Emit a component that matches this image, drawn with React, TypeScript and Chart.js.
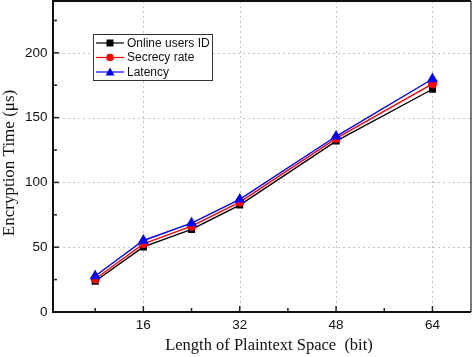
import React, { useEffect, useRef } from "react";
import { Chart, registerables } from "chart.js";

Chart.register(...registerables);

const xValues = [8, 16, 24, 32, 48, 64];
const onlineUsersID = [23.7, 50.2, 63.7, 82.5, 131.9, 171.9];
const secrecyRate = [25.5, 52.6, 66.2, 84.8, 134.0, 176.0];
const latency = [27.8, 55.2, 68.6, 86.9, 135.6, 179.8];
const xMajorTicks = [16, 32, 48, 64];
const xMinorTicks = [8, 24, 40, 56];
const yMajorTicks = [0, 50, 100, 150, 200];
const yMinorTicks = [25, 75, 125, 175, 225];
const seriesNames = ["Online users ID", "Secrecy rate", "Latency"];
const xTitle = "Length of Plaintext Space  (bit)";
const yTitle = "Encryption Time (\u03bcs)";

const SANS = "'Liberation Sans', Arial, sans-serif";
const SERIF = "'Liberation Serif', 'Times New Roman', serif";

const decorPlugin = {
  id: "decor",
  beforeDatasetsDraw(chart: any) {
    const { ctx, chartArea: a, scales } = chart;
    const xs = scales.x, ys = scales.y;
    ctx.save();
    ctx.strokeStyle = "#c4c4c4";
    ctx.lineWidth = 1;
    ctx.setLineDash([2, 3]);
    for (const t of xMajorTicks) {
      const px = Math.round(xs.getPixelForValue(t)) + 0.5;
      ctx.beginPath(); ctx.moveTo(px, a.top); ctx.lineTo(px, a.bottom); ctx.stroke();
    }
    for (const t of yMajorTicks) {
      if (t === 0) continue;
      const py = Math.round(ys.getPixelForValue(t)) + 0.5;
      ctx.beginPath(); ctx.moveTo(a.left, py); ctx.lineTo(a.right, py); ctx.stroke();
    }
    ctx.setLineDash([]);
    ctx.restore();
  },
  afterDatasetsDraw(chart: any) {
    const { ctx, chartArea: a, scales } = chart;
    const xs = scales.x, ys = scales.y;
    ctx.save();
    ctx.strokeStyle = "#222";
    ctx.lineWidth = 1.5;
    const xt = (v: number, len: number) => {
      const px = xs.getPixelForValue(v);
      ctx.beginPath(); ctx.moveTo(px, a.bottom); ctx.lineTo(px, a.bottom - len); ctx.stroke();
    };
    const yt = (v: number, len: number) => {
      const py = ys.getPixelForValue(v);
      ctx.beginPath(); ctx.moveTo(a.left, py); ctx.lineTo(a.left + len, py); ctx.stroke();
    };
    xMajorTicks.forEach((v) => xt(v, 6));
    xMinorTicks.forEach((v) => xt(v, 4));
    yMajorTicks.forEach((v) => yt(v, 6));
    yMinorTicks.forEach((v) => yt(v, 4));
    ctx.lineWidth = 2;
    ctx.strokeStyle = "#7a7a7a";
    ctx.beginPath(); ctx.moveTo(a.right, a.top); ctx.lineTo(a.right, a.bottom); ctx.stroke();
    ctx.strokeStyle = "#111";
    ctx.beginPath();
    ctx.moveTo(a.right, a.top); ctx.lineTo(a.left, a.top); ctx.lineTo(a.left, a.bottom); ctx.lineTo(a.right, a.bottom);
    ctx.stroke();

    ctx.fillStyle = "#111";
    ctx.font = `16.5px ${SERIF}`;
    ctx.textAlign = "center";
    ctx.textBaseline = "middle";
    ctx.fillText(xTitle, 269, 346);
    ctx.save();
    ctx.font = `17px ${SERIF}`;
    ctx.translate(10, 163);
    ctx.rotate(-Math.PI / 2);
    ctx.fillText(yTitle, 0, 0);
    ctx.restore();

    const lx = 93.5, ly = 34.5, lw = 119, lh = 46;
    ctx.fillStyle = "#fff";
    ctx.fillRect(lx, ly, lw, lh);
    ctx.strokeStyle = "#333";
    ctx.lineWidth = 1;
    ctx.strokeRect(lx, ly, lw, lh);
    const colors = ["#000000", "#ff0000", "#0000ff"];
    const rows = [43, 57.5, 72];
    ctx.font = `12px ${SANS}`;
    ctx.textAlign = "left";
    rows.forEach((ry, i) => {
      ctx.strokeStyle = colors[i];
      ctx.lineWidth = 1.2;
      ctx.beginPath(); ctx.moveTo(96, ry); ctx.lineTo(124, ry); ctx.stroke();
      ctx.fillStyle = colors[i];
      const cx = 110;
      if (i === 0) ctx.fillRect(cx - 3.5, ry - 3.5, 7, 7);
      else if (i === 1) { ctx.beginPath(); ctx.arc(cx, ry, 3.8, 0, Math.PI * 2); ctx.fill(); }
      else { ctx.beginPath(); ctx.moveTo(cx, ry - 4.5); ctx.lineTo(cx + 4.5, ry + 3.5); ctx.lineTo(cx - 4.5, ry + 3.5); ctx.closePath(); ctx.fill(); }
      ctx.fillStyle = "#111";
      ctx.fillText(seriesNames[i], 127, ry + 0.5);
    });
    ctx.restore();
  },
};

export default function App() {
  const ref = useRef<HTMLCanvasElement>(null);
  useEffect(() => {
    if (!ref.current) return;
    const mk = (d: number[]) => d.map((y, i) => ({ x: xValues[i], y }));
    const chart = new Chart(ref.current, {
      type: "line",
      data: {
        datasets: [
          { label: seriesNames[0], data: mk(onlineUsersID), borderColor: "#000", backgroundColor: "#000", borderWidth: 1.4, pointStyle: "rect", pointRadius: 4, order: 3 },
          { label: seriesNames[1], data: mk(secrecyRate), borderColor: "#ff0000", backgroundColor: "#ff0000", borderWidth: 1.4, pointStyle: "circle", pointRadius: 3.8, order: 2 },
          { label: seriesNames[2], data: mk(latency), borderColor: "#0000ff", backgroundColor: "#0000ff", borderWidth: 1.4, pointStyle: "triangle", pointRadius: 5, order: 1 },
        ] as any,
      },
      options: {
        animation: false,
        responsive: false,
        maintainAspectRatio: false,
        layout: { autoPadding: false, padding: { top: 1, right: 3, left: 0, bottom: 0 } },
        plugins: { legend: { display: false }, tooltip: { enabled: false } },
        scales: {
          x: {
            type: "linear",
            min: 1,
            max: 70.4,
            grid: { display: false, drawTicks: false },
            border: { display: false },
            afterBuildTicks: (s: any) => { s.ticks = xMajorTicks.map((v) => ({ value: v })); },
            afterFit: (s: any) => { s.height = 45; s.paddingLeft = 0; s.paddingRight = 0; },
            ticks: { color: "#111", font: { family: SANS, size: 13.5 }, padding: 5, maxRotation: 0 },
          },
          y: {
            type: "linear",
            min: 0,
            max: 240,
            grid: { display: false, drawTicks: false },
            border: { display: false },
            afterBuildTicks: (s: any) => { s.ticks = yMajorTicks.map((v) => ({ value: v })); },
            afterFit: (s: any) => { s.width = 53; s.paddingTop = 0; s.paddingBottom = 0; },
            ticks: { color: "#111", font: { family: SANS, size: 13.5 }, padding: 5.5 },
          },
        },
      } as any,
      plugins: [decorPlugin],
    });
    return () => chart.destroy();
  }, []);
  return (
    <div style={{ position: "fixed", left: 0, top: 0, width: 474, height: 357, background: "#fff" }}>
      <canvas ref={ref} width={474} height={357} style={{ width: 474, height: 357 }} />
    </div>
  );
}
